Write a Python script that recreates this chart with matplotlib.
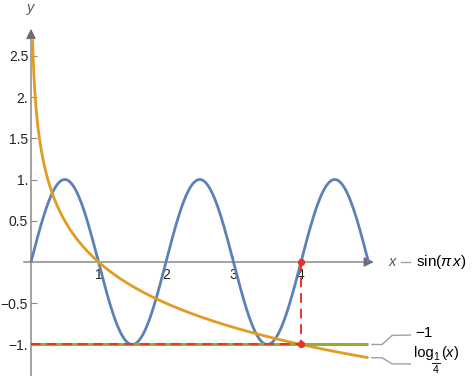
import matplotlib.pyplot as plt
import numpy as np

plt.rcParams["font.family"] = ["Liberation Sans", "DejaVu Sans"]
plt.rcParams["mathtext.fontset"] = "custom"
plt.rcParams["mathtext.rm"] = "Liberation Sans"
plt.rcParams["mathtext.it"] = "Liberation Sans:italic"

# domain of the plotted functions and the axis ranges
x_domain = [0.0, 5.0]
log_start = 0.0237          # log_{1/4}(x) is clipped at the top of the plot
x_ticks = [1, 2, 3, 4]
x_tick_labels = ["1", "2", "3", "4"]
y_ticks = [-1.0, -0.5, 0.5, 1.0, 1.5, 2.0, 2.5]
y_tick_labels = ["\u22121.", "\u22120.5", "0.5", "1.", "1.5", "2.", "2.5"]
hline_y = -1.0
point_x = 4.0
point_ys = [0.0, -1.0]
sin_label = "sin($\\pi\\,x$)"
hline_label = "\u22121"

BLUE = "#5E81B5"
ORANGE = "#E19C24"
GREEN = "#8FB032"
RED = "#E8332A"
AXIS = "#8A8A8A"

fig = plt.figure(figsize=(4.74, 3.76), dpi=100)
ax = fig.add_axes([0, 0, 1, 1])
ax.set_xlim(-0.459, 6.563)
ax.set_ylim(-1.382, 3.176)

# axes through the origin, Mathematica style
for s in ["top", "right"]:
    ax.spines[s].set_visible(False)
ax.spines["left"].set_position(("data", 0))
ax.spines["bottom"].set_position(("data", 0))
ax.spines["left"].set_bounds(-1.382, 2.72)
ax.spines["bottom"].set_bounds(-0.1, 4.95)
for s in ["left", "bottom"]:
    ax.spines[s].set_color(AXIS)
    ax.spines[s].set_linewidth(1.1)

ax.annotate("", xy=(0, 2.86), xytext=(0, 2.68),
            arrowprops=dict(arrowstyle="-|>", color="#6E6E6E", lw=1.1,
                            mutation_scale=14))
ax.annotate("", xy=(5.12, 0), xytext=(4.92, 0),
            arrowprops=dict(arrowstyle="-|>", color="#6E6E6E", lw=1.1,
                            mutation_scale=14))

ax.set_xticks(x_ticks)
ax.set_xticklabels(x_tick_labels)
ax.set_yticks(y_ticks)
ax.set_yticklabels(y_tick_labels)
ax.tick_params(direction="in", length=4, width=0.8, color=AXIS,
               labelsize=10, labelcolor="#222222", pad=2)
ax.tick_params(axis="x", pad=4)

ax.text(0, 3.08, "y", ha="center", va="center", fontsize=10.5,
        style="italic", color="#555555")
ax.text(5.35, 0, "x", ha="center", va="center", fontsize=10.5,
        style="italic", color="#555555")

# curves
xs = np.linspace(x_domain[0], x_domain[1], 600)
ax.plot(xs, np.sin(np.pi * xs), color=BLUE, lw=2.0, zorder=3,
        solid_capstyle="butt")
xl = np.geomspace(log_start, x_domain[1], 600)
ax.plot(xl, -np.log(xl) / np.log(4), color=ORANGE, lw=2.0, zorder=3,
        solid_capstyle="butt")
ax.plot(x_domain, [hline_y, hline_y], color=GREEN, lw=2.2, zorder=3,
        solid_capstyle="butt")

# red construction lines and points
ax.plot([0, point_x], [hline_y, hline_y], color=RED, lw=1.4,
        dashes=(5, 3), zorder=4)
ax.plot([point_x, point_x], point_ys, color=RED, lw=1.4,
        dashes=(5, 3), zorder=4)
ax.scatter([point_x] * len(point_ys), point_ys, s=18, color=RED, zorder=5)

# callout labels on the right
gray = "#A0A0A0"
ax.plot([5.48, 5.62], [0, 0], color=gray, lw=1.0)
ax.text(5.70, 0, sin_label, ha="left", va="center", fontsize=11)

ax.plot([5.05, 5.2, 5.35, 5.62], [-1.0, -1.0, -0.89, -0.885], color=gray, lw=1.0)
ax.text(5.70, -0.86, hline_label, ha="left", va="center", fontsize=11)

y_end = -np.log(x_domain[1]) / np.log(4)
ax.plot([5.05, 5.2, 5.35, 5.62], [y_end, y_end, -1.235, -1.236], color=gray, lw=1.0)
# log with a stacked 1/4 subscript
ax.text(5.67, -1.10, "log", ha="left", va="center", fontsize=10.5)
ax.text(6.00, -1.155, "1", ha="center", va="center", fontsize=7.5)
ax.plot([5.94, 6.06], [-1.224, -1.224], color="#222222", lw=0.8)
ax.text(6.00, -1.31, "4", ha="center", va="center", fontsize=7.5)
ax.text(6.08, -1.10, "($x$)", ha="left", va="center", fontsize=10.5)

fig.savefig("out.png", dpi=100)
